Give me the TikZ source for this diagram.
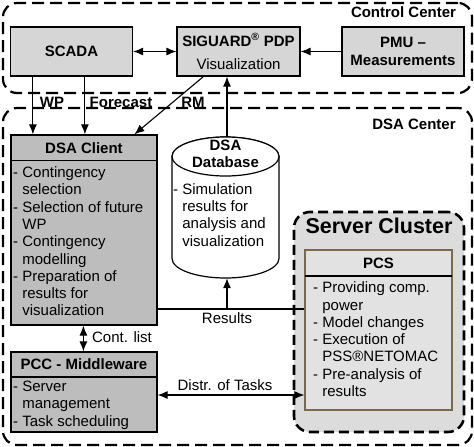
\documentclass[tikz,border=0pt]{standalone}
\usepackage{fontspec}
\setmainfont{Liberation Sans}
\usetikzlibrary{arrows.meta}
\newcommand\myfs{\fontsize{15}{17.3}\selectfont}
\newcommand\ind{\hspace*{9.2pt}}
\definecolor{topgray}{HTML}{D6D6D6}
\definecolor{darkgray}{HTML}{BDBDBD}
\definecolor{clustergray}{HTML}{DCDCDC}
\definecolor{pcsgray}{HTML}{E2E2E2}
\definecolor{pcsborder}{HTML}{7A6A4A}
\tikzset{
  topbox/.style={draw, line width=1.2pt, fill=topgray, inner sep=0pt, font=\myfs, align=center},
  clientbox/.style={draw, line width=1.2pt, fill=darkgray, inner sep=0pt},
  pcsbox/.style={draw=pcsborder, line width=1.2pt, fill=pcsgray, inner sep=0pt},
  areabox/.style={draw, line width=2.2pt, dash pattern=on 12pt off 6pt, rounded corners=14pt, inner sep=0pt},
  clusterbox/.style={draw, line width=2.6pt, dash pattern=on 10pt off 5pt, rounded corners=16pt, fill=clustergray, inner sep=0pt},
  txt/.style={inner sep=0pt, font=\myfs, align=left},
  btxt/.style={inner sep=0pt, font=\myfs\bfseries, align=center},
  conn/.style={line width=1.1pt},
  arr/.style={line width=1.1pt, -{Latex[length=10pt,width=8pt]}},
  darr/.style={line width=1.1pt, {Latex[length=10pt,width=8pt]}-{Latex[length=10pt,width=8pt]}},
}
\begin{document}
\begin{tikzpicture}[x=1pt,y=-1pt]
\useasboundingbox (0,0) rectangle (474,447);

% areas
\node[areabox, minimum width=469pt, minimum height=90pt] (cc) at (237.5,48) {};
\node[areabox, minimum width=469pt, minimum height=337pt] (dsac) at (237.5,276.5) {};
\node[btxt] (cclbl) at (403.5,12) {Control Center};
\node[btxt] (dsalbl) at (414,124) {DSA Center};

% top boxes
\node[topbox, minimum width=122pt, minimum height=49pt] (scada) at (71.5,51.5) {\bfseries SCADA};
\node[topbox, minimum width=123pt, minimum height=49pt] (sig) at (238.5,51.5)
  {\bfseries SIGUARD\textsuperscript{®} PDP\\[5.7pt]Visualization};
\node[topbox, minimum width=122pt, minimum height=49pt] (pmu) at (403,51.5)
  {\bfseries PMU –\\[1.4pt]\bfseries Measurements};

% DSA client
\node[clientbox, minimum width=146pt, minimum height=190pt] (client) at (84,230) {};
\draw[line width=1.2pt] (11,160.7) -- (157,160.7);
\node[btxt] (clienth) at (84,148) {DSA Client};
\node[txt, anchor=north west] (clientb) at (13,166.5)
  {- Contingency\\\ind selection\\- Selection of future\\\ind WP\\- Contingency\\\ind modelling\\- Preparation of\\\ind results for\\\ind visualization};

% database
\node[minimum width=107pt, minimum height=141pt, inner sep=0pt] (db) at (225.5,207.5) {};
\draw[line width=1.2pt, fill=white] (172,156.5) -- (172,258.5)
  arc[start angle=180, end angle=360, x radius=53.5pt, y radius=19.5pt]
  -- (279,156.5) arc[start angle=0, end angle=180, x radius=53.5pt, y radius=19.5pt] -- cycle;
\draw[line width=1.2pt, fill=white] (225.5,156.5) ellipse[x radius=53.5pt, y radius=19.5pt];
\node[btxt] (dbh) at (225.5,154) {DSA\\Database};
\node[txt, anchor=north west] (dbb) at (173,183.3)
  {- Simulation\\\ind results for\\\ind analysis and\\\ind visualization};

% PCC
\node[clientbox, minimum width=146pt, minimum height=80pt] (pcc) at (84,392) {};
\draw[line width=1.2pt] (11,377) -- (157,377);
\node[btxt] (pcch) at (84,364.5) {PCC - Middleware};
\node[txt, anchor=north west] (pccb) at (13,381)
  {- Server\\\ind management\\- Task scheduling};

% server cluster
\node[clusterbox, minimum width=170pt, minimum height=220pt] (cluster) at (379,322) {};
\node[inner sep=0pt, font=\fontsize{21.5}{24}\selectfont\bfseries] (clusterlbl) at (379,226) {Server Cluster};
\node[pcsbox, minimum width=147pt, minimum height=160pt] (pcs) at (378.5,330) {};
\draw[line width=1.2pt] (305,276) -- (452,276);
\node[btxt] (pcsh) at (378.5,263) {PCS};
\node[txt, anchor=north west] (pcsb) at (313,281.7)
  {- Providing comp.\\\ind power\\- Model changes\\- Execution of\\\ind PSS®NETOMAC\\- Pre-analysis of\\\ind results};

% connectors
\draw[darr] (scada.east) -- (sig.west);
\draw[arr] (pmu.west) -- (sig.east);
\draw[arr] ([xshift=23pt]scada.south west) -- ([xshift=23pt]scada.south west |- client.north);
\draw[arr] ([xshift=75pt]scada.south west) -- ([xshift=75pt]scada.south west |- client.north);
\draw[arr] ([xshift=27pt]sig.south west) -- ([xshift=124pt]client.north west);
\draw[arr] ([xshift=1.5pt]db.north) -- ([xshift=1.5pt]db.north |- sig.south);
\node[btxt] (wpl) at (52,102) {WP};
\node[btxt] (fcl) at (121,102) {Forecast};
\node[btxt] (rml) at (193,102) {RM};

\draw[conn] ([yshift=21pt]pcs.west) -- ([yshift=21pt]pcs.west -| client.east);
\draw[arr] ([yshift=21pt,xshift=1.5pt]pcs.west -| db.south) -- ([xshift=1.5pt]db.south);
\node[txt] (resl) at (227,318.5) {Results};

\draw[darr] ([xshift=73pt]client.south west) -- ([xshift=73pt]pcc.north west);
\node[txt] (contl) at (122,337) {Cont. list};

\draw[darr] ([yshift=-3pt]pcc.east) -- ([yshift=-3pt]pcc.east -| pcs.west);
\node[txt] (distl) at (225,385) {Distr. of Tasks};
\end{tikzpicture}
\end{document}
